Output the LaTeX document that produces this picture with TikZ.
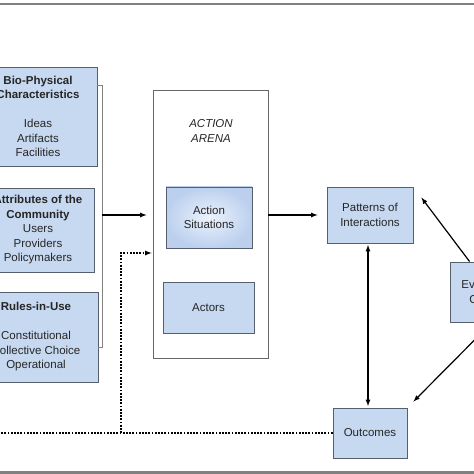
\documentclass[tikz,border=0pt]{standalone}
\usepackage{fontspec}
\setmainfont{Liberation Sans}
\definecolor{boxblue}{RGB}{198,217,241}
\definecolor{boxline}{RGB}{85,95,110}
\definecolor{shadein}{RGB}{236,243,252}
\definecolor{shadeout}{RGB}{188,208,238}
\begin{document}
\begin{tikzpicture}[x=1pt,y=1pt,>=latex,
  every node/.style={font=\fontsize{11.5}{14.5}\selectfont,text=black!85,align=center},
  bluebox/.style={draw=boxline,fill=boxblue,line width=0.8pt,inner sep=0pt},
  arr/.style={->,line width=1.2pt},
  fb/.style={line width=1.2pt,dash pattern=on 1.8pt off 1.4pt},
  brk/.style={draw=gray,line width=0.9pt}]
\useasboundingbox (0,0) rectangle (474,474);
\clip (0,0) rectangle (474,474);
\draw[gray,line width=1.8pt] (0,470) -- (474,470);
\draw[gray,line width=3pt] (0,1.5) -- (474,1.5);
\node[bluebox,minimum width=118pt,minimum height=99pt] (bio) at (38,357.5) {\textbf{Bio-Physical}\\\textbf{Characteristics}\\[14.5pt]Ideas\\Artifacts\\Facilities};
\node[bluebox,minimum width=112pt,minimum height=84pt] (comm) at (38,244) {\textbf{Attributes of the}\\\textbf{Community}\\Users\\Providers\\Policymakers};
\node[bluebox,minimum width=124pt,minimum height=90pt] (rules) at (36,137) {\textbf{Rules-in-Use}\\[14.5pt]Constitutional\\Collective Choice\\Operational};
\node[draw=black!60,line width=0.8pt,minimum width=115pt,minimum height=268pt] (arena) at (210.5,250) {};
\node (arenaT) at (211,343) {\textit{ACTION}\\\textit{ARENA}};
\node[draw=boxline,line width=0.8pt,shading=radial,inner color=shadein,outer color=shadeout,minimum width=86pt,minimum height=61pt] (sit) at (209,256.5) {Action\\Situations};
\node[bluebox,minimum width=91pt,minimum height=51pt] (act) at (208.5,166.5) {Actors};
\node[bluebox,minimum width=86pt,minimum height=56pt] (pat) at (370,259) {Patterns of\\Interactions};
\node[bluebox,minimum width=74pt,minimum height=50pt] (out) at (370,41) {Outcomes};
\node[bluebox,minimum width=76pt,minimum height=60pt] (eval) at (488,182) {Evaluative\\Criteria};
\coordinate (brkT) at (102,389);
\coordinate (brkB) at (102,127);
\coordinate (brkM) at (102,259);
\draw[brk] (bio.east |- brkT) -- (brkT) -- (brkB) -- (rules.east |- brkB);
\draw[arr,shorten >=6pt] (brkM) -- (arena.west |- brkM);
\draw[arr,shorten >=9pt] (arena.east |- pat.west) -- (pat.west);
\draw[arr,<->,shorten >=1.5pt,shorten <=1.5pt] ([xshift=-2pt]pat.south) -- ([xshift=-2pt]out.north);
\draw[arr] ([xshift=20pt]eval.north west) -- ([shift={(8pt,-11pt)}]pat.north east);
\draw[arr] ([xshift=4pt]eval.south) -- ([shift={(6pt,6pt)}]out.north east);
\coordinate (fbL) at (-5,41);
\coordinate (fbJ) at (121,41);
\draw[fb] (out.west) -- (fbL);
\draw[fb,->,shorten >=1pt] (fbJ) |- ([yshift=-29pt]arena.west);
\end{tikzpicture}
\end{document}
